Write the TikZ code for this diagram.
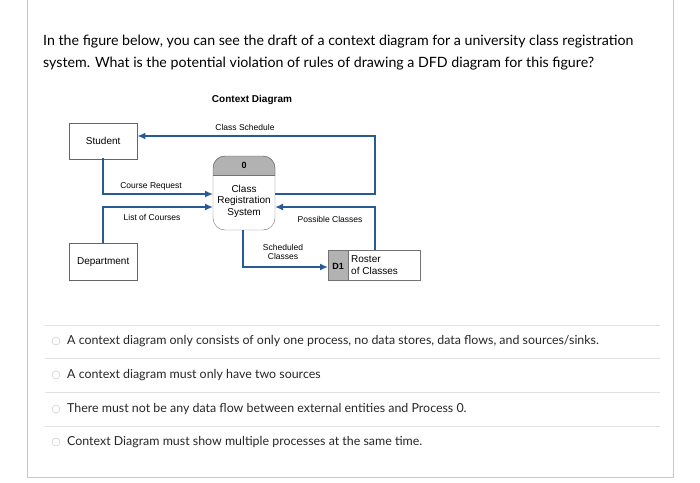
\documentclass[tikz,border=0pt]{standalone}
\usepackage{fontspec}
\setmainfont{Lato}
\newfontfamily\hv{Liberation Sans}
\usetikzlibrary{arrows.meta,calc}
\definecolor{flow}{RGB}{40,90,150}
\definecolor{frm}{RGB}{200,200,200}
\definecolor{sep}{RGB}{225,225,225}
\tikzset{
  ent/.style={draw=black!60,fill=white,minimum width=68pt,minimum height=36pt,inner sep=0pt,font=\hv\fontsize{10}{11}\selectfont},
  fl/.style={draw=flow,line width=1.6pt,-{Latex[length=8pt,width=7pt]}},
  lab/.style={font=\hv\fontsize{8.5}{9.5}\selectfont,align=center,inner sep=1pt},
  q/.style={font=\fontsize{14.2}{22}\selectfont,anchor=west,inner sep=0pt},
  opt/.style={font=\fontsize{12.4}{14}\selectfont,anchor=west,inner sep=0pt,text=black!85},
  radio/.style={circle,draw=black!25,minimum size=8pt,inner sep=0pt}
}
\begin{document}
\begin{tikzpicture}[x=1pt,y=-1pt]
\useasboundingbox (0,0) rectangle (700,482);
\draw[frm] (27,0) -- (27,477) -- (673,477) -- (673,0);
\node[q] (q1) at (43,42) {In the figure below, you can see the draft of a context diagram for a university class registration};
\node[q] (q2) at (43,64) {system. What is the potential violation of rules of drawing a DFD diagram for this figure?};
\node[font=\hv\bfseries\fontsize{10}{11}\selectfont] (title) at (252,100) {Context Diagram};
% entities
\node[ent,anchor=north west] (stu) at (69,123) {Student};
\node[ent,anchor=north west,minimum height=37pt] (dep) at (69,243) {Department};
% process
\begin{scope}
\clip (213,156) rectangle (275,175);
\draw[black!55,fill=black!30,rounded corners=12pt] (213,156) rectangle (275,230);
\end{scope}
\draw[black!55,rounded corners=12pt] (213,156) rectangle (275,230);
\draw[black!55] (213,175) -- (275,175);
\node[font=\hv\bfseries\fontsize{9}{10}\selectfont] (pn) at (244,165) {0};
\node[lab,font=\hv\fontsize{10}{11.5}\selectfont] (proc) at (244,201) {Class\\Registration\\System};
% data store
\draw[black!55,fill=white] (328,250) rectangle (420,280);
\draw[black!55,fill=black!30] (328,250) rectangle (348,280);
\node[font=\hv\bfseries\fontsize{9}{10}\selectfont] (d1) at (338,266) {D1};
\node[lab,font=\hv\fontsize{10}{11.5}\selectfont,anchor=west,align=left] (ros) at (350,265) {Roster\\of Classes};
% flows
\draw[fl] (275,194) -- (375,194) -- (375,136) -- (stu.east |- 0,136);
\node[lab] (l1) at (245,127) {Class Schedule};
\draw[fl] (103,158) -- (103,194) -- (213,194);
\node[lab] (l2) at (151,186) {Course Request};
\draw[fl] (103,243) -- (103,207) -- (213,207);
\node[lab] (l3) at (152,217) {List of Courses};
\draw[fl] (375,250) -- (375,207) -- (275,207);
\node[lab] (l4) at (330,219) {Possible Classes};
\draw[fl] (243,230) -- (243,267) -- (328,267);
\node[lab] (l5) at (283,252) {Scheduled\\Classes};
% options
\foreach \y in {325,358,392,426} \draw[sep] (45,\y) -- (660,\y);
\foreach \y/\t [count=\i] in {341/{A context diagram only consists of only one process, no data stores, data flows, and sources/sinks.},375/{A context diagram must only have two sources},409/{There must not be any data flow between external entities and Process 0.},442/{Context Diagram must show multiple processes at the same time.}}{
  \node[radio] (r\i) at (56,\y) {};
  \node[opt] (o\i) at (67,\y) {\t};
}
\end{tikzpicture}
\end{document}
